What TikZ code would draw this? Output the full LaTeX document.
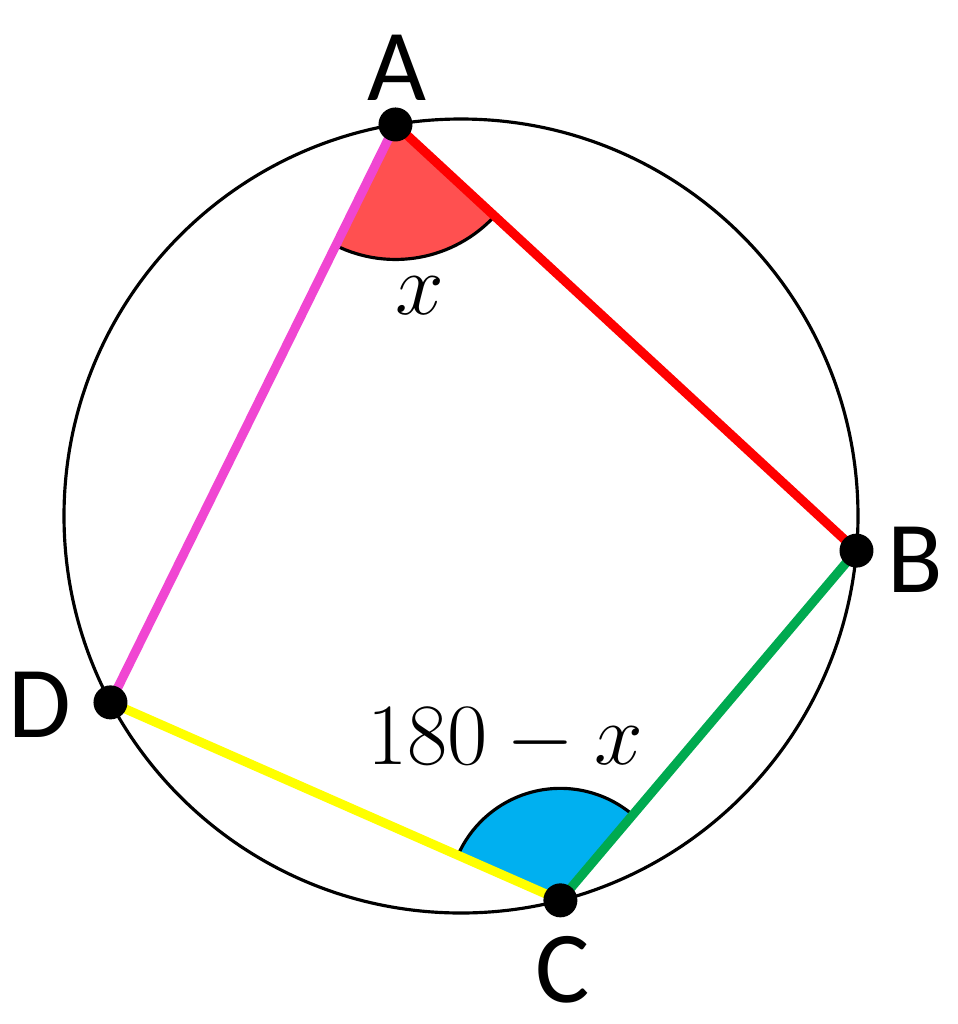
\documentclass[tikz,border=0pt]{standalone}
\usepackage{fontspec}
\setmainfont{Carlito}
\usetikzlibrary{positioning, calc}
\definecolor{sideab}{RGB}{255,0,0}
\definecolor{sidebc}{RGB}{0,170,80}
\definecolor{sidecd}{RGB}{255,255,0}
\definecolor{sideda}{RGB}{240,70,210}
\definecolor{anglea}{RGB}{255,80,80}
\definecolor{anglec}{RGB}{0,176,240}
\begin{document}
\begin{tikzpicture}
    \tikzset{vertex/.style={circle,fill=black,inner sep=0pt,minimum size=0.34cm}}
    \tikzset{vlabel/.style={inner sep=0pt,font=\fontsize{29}{34}\selectfont}}
    \tikzset{alabel/.style={font=\fontsize{28}{34}\selectfont}}
    \tikzset{side/.style={line width=2.6pt}}
    \useasboundingbox (0,0) rectangle (9.58,-10.24);
    \coordinate (O) at (4.61,-5.16);
    \draw[line width=0.9pt] (O) circle (3.97);
    \coordinate (A) at ($(O)+(99.5:3.97)$);
    \coordinate (B) at ($(O)+(-5:3.97)$);
    \coordinate (C) at ($(O)+(-75.5:3.97)$);
    \coordinate (D) at ($(O)+(208:3.97)$);

    % angles
    \fill[anglea] (A) -- ++(243.6:1.35) arc (243.6:317.2:1.35) -- cycle;
    \draw[line width=0.9pt] (A) ++(243.6:1.35) arc (243.6:317.2:1.35);
    \fill[anglec] (C) -- ++(49.9:1.12) arc (49.9:156.3:1.12) -- cycle;
    \draw[line width=0.9pt] (C) ++(49.9:1.12) arc (49.9:156.3:1.12);

    % sides
    \draw[side, sideab] (A) -- (B);
    \draw[side, sidebc] (B) -- (C);
    \draw[side, sidecd] (C) -- (D);
    \draw[side, sideda] (D) -- (A);

    \node[vertex] (a) at (A) {};
    \node[vertex] (b) at (B) {};
    \node[vertex] (c) at (C) {};
    \node[vertex] (d) at (D) {};

    \node[vlabel] (la) at (3.97,-0.68) {A};
    \node[vlabel] (lb) at (9.15,-5.60) {B};
    \node[vlabel] (lc) at (5.63,-9.70) {C};
    \node[vlabel] (ld) at (0.40,-7.05) {D};
    \node[alabel] (lx) at (4.20,-2.96) {$x$};
    \node[alabel] (ly) at (5.05,-7.40) {$180-x$};
\end{tikzpicture}
\end{document}
